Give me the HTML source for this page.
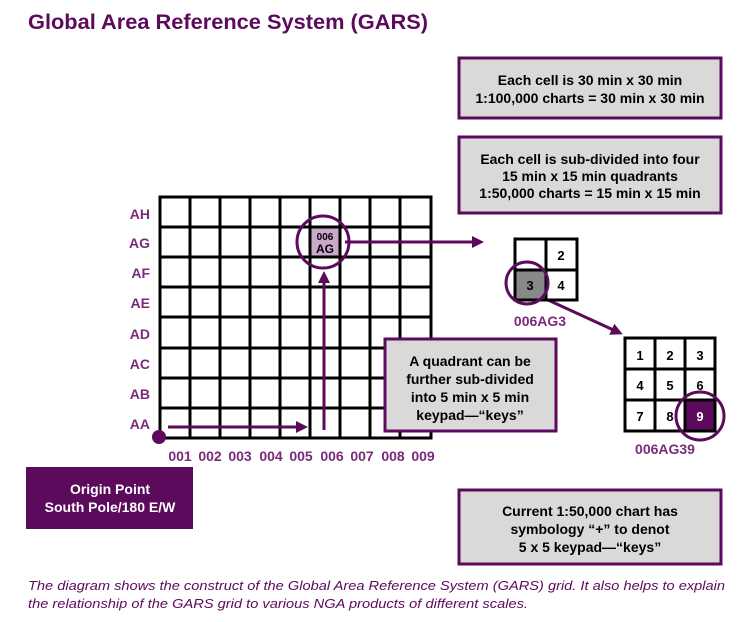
<!DOCTYPE html>
<html><head><meta charset="utf-8"><style>
html,body{margin:0;padding:0;background:#fff;width:744px;height:622px;overflow:hidden}
svg text{font-family:"Liberation Sans Narrow","Liberation Sans",sans-serif}
</style></head><body>
<svg width="744" height="622" xmlns="http://www.w3.org/2000/svg">
<defs>
<marker id="ah2" markerWidth="12" markerHeight="12" refX="9" refY="6" orient="auto" markerUnits="userSpaceOnUse"><path d="M0,0 L12,6 L0,12 z" fill="#5c0a5c"/></marker></defs>
<text x="28" y="29" font-size="21" font-weight="bold" fill="#5c0a5c" style="font-family:'Liberation Sans',sans-serif" textLength="400" lengthAdjust="spacingAndGlyphs">Global Area Reference System (GARS)</text>
<g stroke="#5c0a5c" stroke-width="3" fill="#d9d9d9">
<rect x="459" y="58" width="262" height="60"/>
<rect x="459" y="137" width="262" height="76"/>
<rect x="459" y="490" width="262" height="74"/>
</g>
<g font-size="14" font-weight="bold" fill="#000" text-anchor="middle">
<text x="590" y="85">Each cell is 30 min x 30 min</text>
<text x="590" y="103">1:100,000 charts = 30 min x 30 min</text>
<text x="590" y="164">Each cell is sub-divided into four</text>
<text x="590" y="181">15 min x 15 min quadrants</text>
<text x="590" y="198">1:50,000 charts = 15 min x 15 min</text>
<text x="590" y="516">Current 1:50,000 chart has</text>
<text x="590" y="534">symbology “+” to denot</text>
<text x="590" y="552">5 x 5 keypad—“keys”</text>
</g>
<rect x="26" y="467" width="167" height="62" fill="#5c0a5c"/>
<g font-size="14" font-weight="bold" fill="#fff" text-anchor="middle">
<text x="110" y="494">Origin Point</text><text x="110" y="512">South Pole/180 E/W</text></g>
<!-- main grid -->
<rect x="311" y="228" width="28" height="28" fill="#c9a8c9"/>
<g stroke="#000" stroke-width="3" fill="none">
<rect x="160" y="197" width="271" height="241"/>
<path d="M190,197V438M220,197V438M250,197V438M280,197V438M310,197V438M340,197V438M370,197V438M400,197V438"/>
<path d="M160,227H431M160,257H431M160,287H431M160,317H431M160,348H431M160,378H431M160,408H431"/>
</g>
<rect x="385" y="339" width="171" height="92" fill="#d9d9d9" stroke="#5c0a5c" stroke-width="3"/>
<g font-size="14" font-weight="bold" fill="#000" text-anchor="middle">
<text x="470" y="366">A quadrant can be</text>
<text x="470" y="384">further sub-divided</text>
<text x="470" y="402">into 5 min x 5 min</text>
<text x="470" y="420">keypad—“keys”</text></g>
<text x="325" y="240" font-size="10" font-weight="bold" text-anchor="middle">006</text>
<text x="325" y="253" font-size="12" font-weight="bold" text-anchor="middle">AG</text>
<circle cx="323" cy="242" r="26" fill="none" stroke="#5c0a5c" stroke-width="3"/>
<circle cx="159" cy="437" r="7" fill="#5c0a5c"/>
<g stroke="#5c0a5c" stroke-width="3">
<line x1="168" y1="427" x2="305" y2="427" marker-end="url(#ah2)"/>
<line x1="324" y1="430" x2="324" y2="274" marker-end="url(#ah2)"/>
<line x1="345" y1="242" x2="481" y2="242" marker-end="url(#ah2)"/>
<line x1="548" y1="300" x2="620" y2="333" marker-end="url(#ah2)"/>
</g>
<g font-size="14" font-weight="bold" fill="#7a2a7a" text-anchor="end">
<text x="150" y="219">AH</text><text x="150" y="248">AG</text><text x="150" y="278">AF</text><text x="150" y="308">AE</text>
<text x="150" y="339">AD</text><text x="150" y="369">AC</text><text x="150" y="399">AB</text><text x="150" y="429">AA</text></g>
<g font-size="14" font-weight="bold" fill="#7a2a7a" text-anchor="middle">
<text x="180" y="461">001</text><text x="210" y="461">002</text><text x="240" y="461">003</text><text x="271" y="461">004</text><text x="301" y="461">005</text><text x="332" y="461">006</text><text x="362" y="461">007</text><text x="393" y="461">008</text><text x="423" y="461">009</text>
<text x="540" y="326">006AG3</text><text x="665" y="454">006AG39</text></g>
<!-- small grid -->
<rect x="515" y="270" width="31" height="30" fill="#888"/>
<g stroke="#000" stroke-width="3" fill="none"><rect x="515" y="239" width="62" height="61"/><path d="M546,239V300M515,270H577"/></g>
<g font-size="13" font-weight="bold" text-anchor="middle"><text x="561" y="260">2</text><text x="530" y="290">3</text><text x="561" y="290">4</text></g>
<circle cx="527" cy="283" r="21" fill="none" stroke="#5c0a5c" stroke-width="3"/>
<!-- keypad -->
<rect x="685" y="401" width="30" height="30" fill="#5c0a5c"/>
<g stroke="#000" stroke-width="3" fill="none"><rect x="625" y="338" width="90" height="93"/><path d="M655,338V431M685,338V431M625,369H715M625,400H715"/></g>
<g font-size="13" font-weight="bold" text-anchor="middle"><text x="640" y="360">1</text><text x="670" y="360">2</text><text x="700" y="360">3</text>
<text x="640" y="390">4</text><text x="670" y="390">5</text><text x="700" y="390">6</text>
<text x="640" y="421">7</text><text x="670" y="421">8</text><text x="700" y="421" fill="#fff">9</text></g>
<circle cx="700" cy="416" r="24" fill="none" stroke="#5c0a5c" stroke-width="3"/>
<g font-size="13" font-style="italic" fill="#5c0a5c"><text x="28" y="590" textLength="697" lengthAdjust="spacingAndGlyphs">The diagram shows the construct of the Global Area Reference System (GARS) grid. It also helps to explain</text>
<text x="28" y="608" textLength="500" lengthAdjust="spacingAndGlyphs">the relationship of the GARS grid to various NGA products of different scales.</text></g>
</svg>
</body></html>
